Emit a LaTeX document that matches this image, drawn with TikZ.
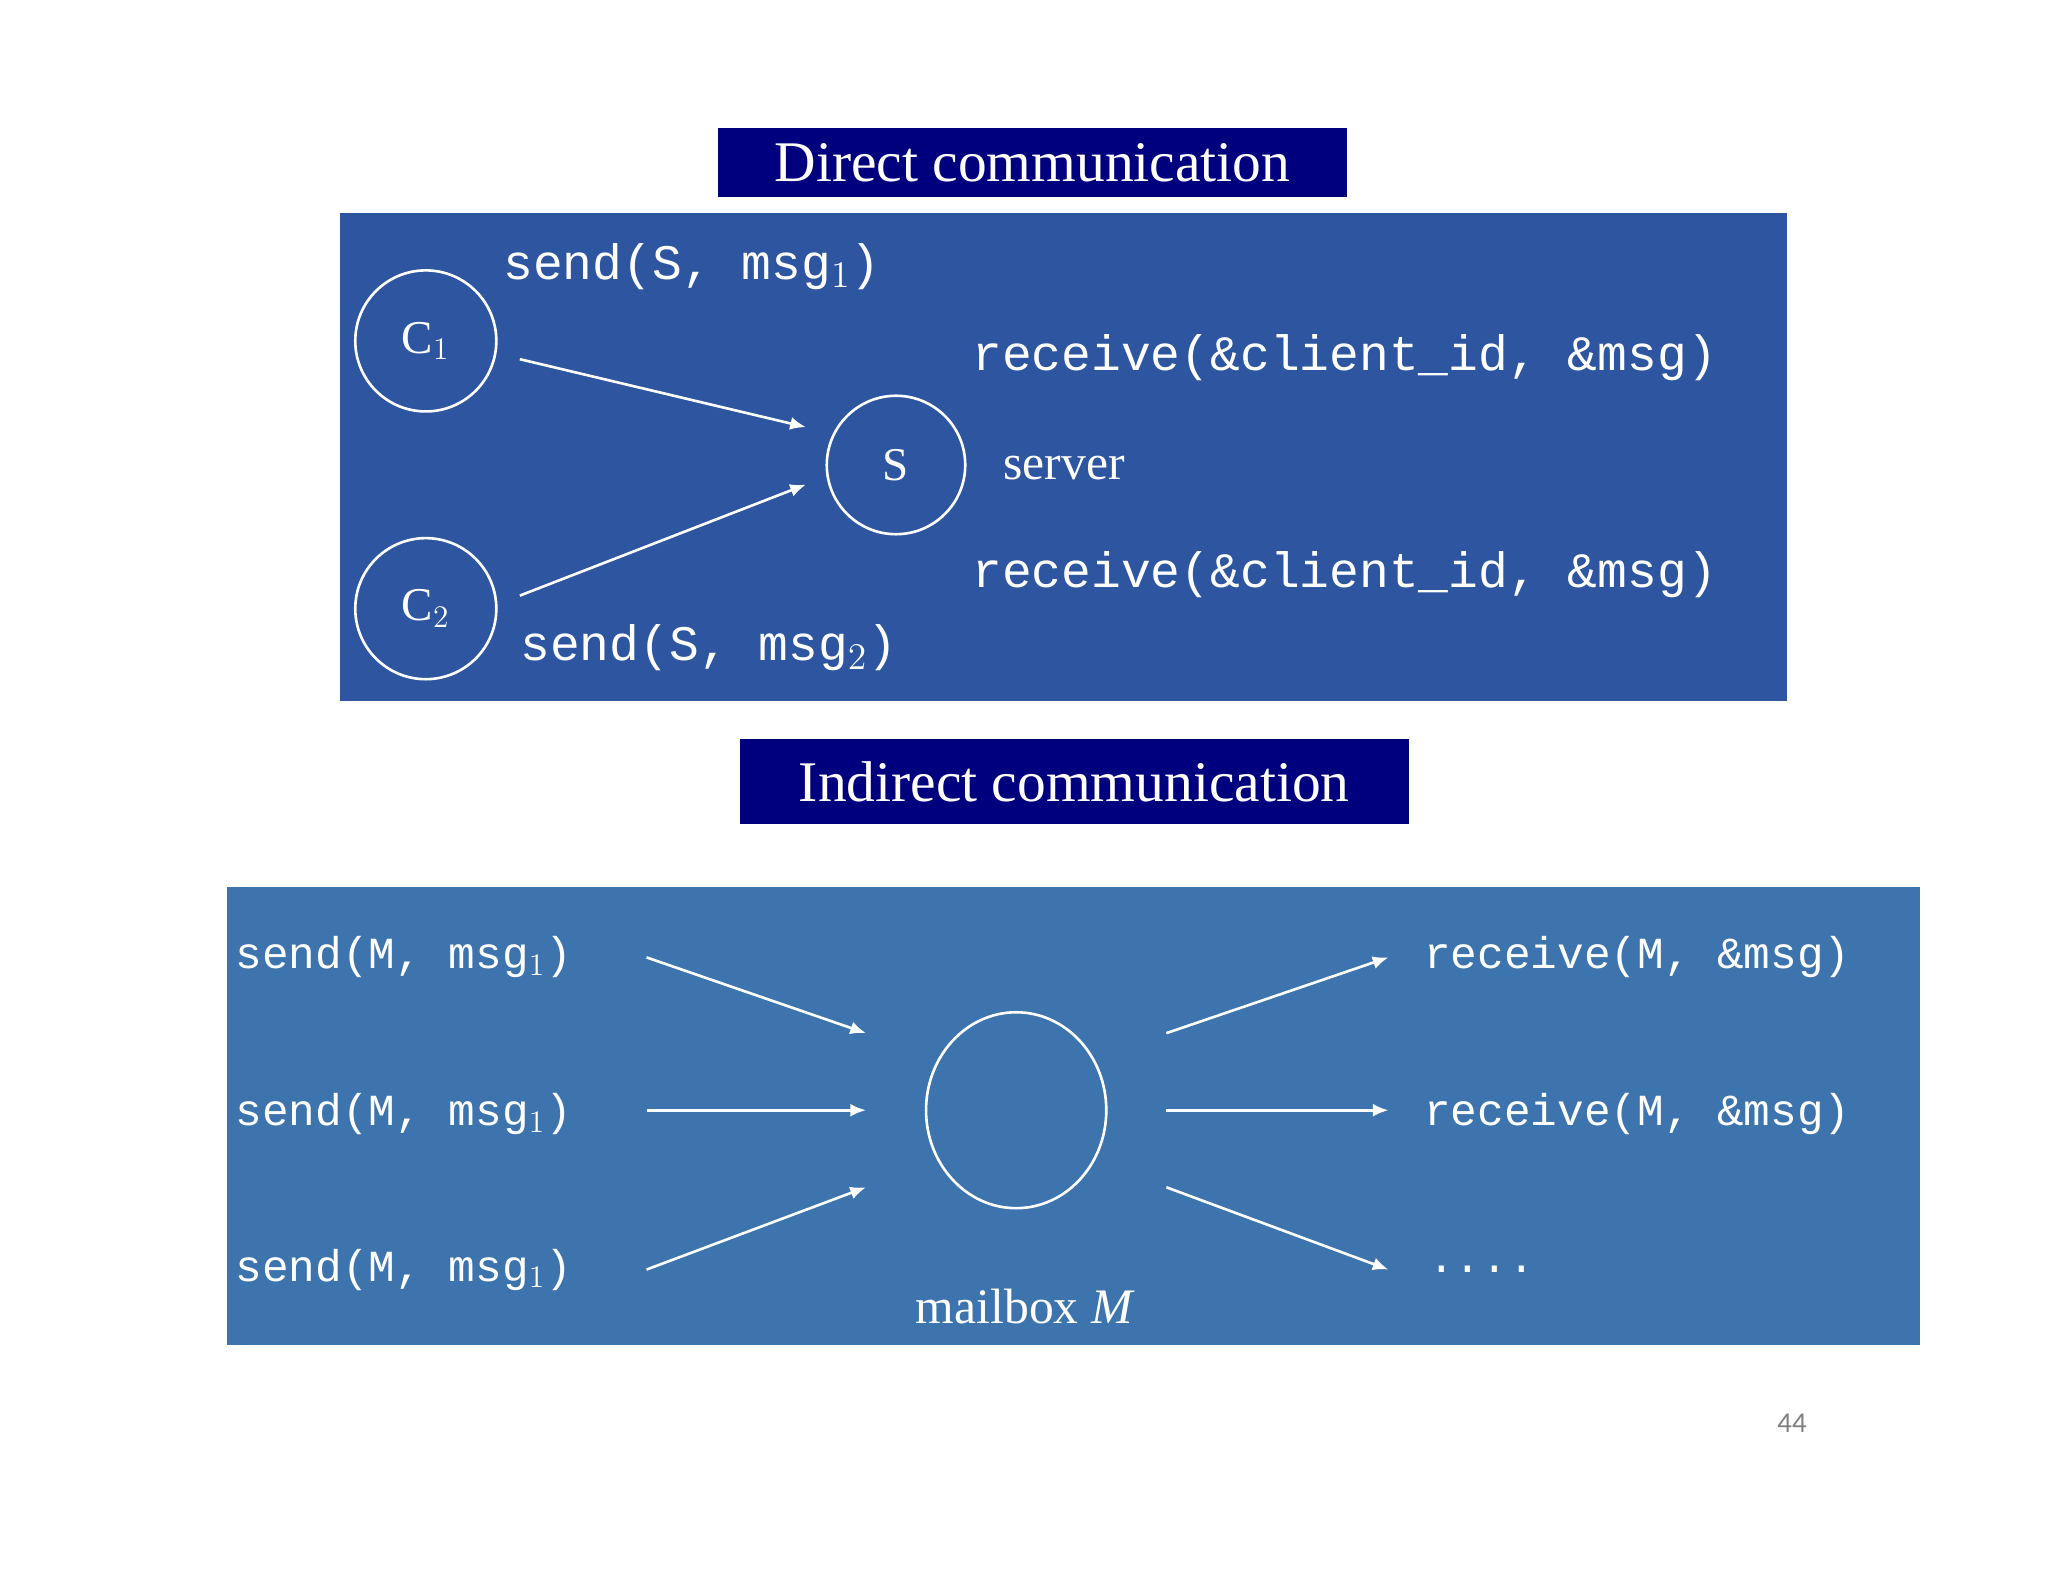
\documentclass[tikz,border=0pt]{standalone}
\usepackage{fontspec}
\setmainfont{Liberation Serif}
\setmonofont{Liberation Mono}
\newfontfamily\pagefont{Carlito}
\usetikzlibrary{arrows.meta,shapes.geometric}
\definecolor{navy}{HTML}{00007F}
\definecolor{boxa}{HTML}{2D55A0}
\definecolor{boxb}{HTML}{3D74AD}
\begin{document}
\begin{tikzpicture}[x=0.5pt,y=-0.5pt,
  code/.style={text=white,font=\ttfamily\fontsize{19}{22}\selectfont,inner sep=0pt},
  codeb/.style={text=white,font=\ttfamily\fontsize{17}{20}\selectfont,inner sep=0pt},
  ttl/.style={fill=navy,text=white,font=\fontsize{22}{26}\selectfont,inner sep=0pt,anchor=west},
  circ/.style={draw=white,line width=1pt,circle,minimum size=54pt,inner sep=0pt,text=white,font=\fontsize{18}{20}\selectfont},
  arr/.style={draw=white,line width=1pt,-{Latex[length=6pt,width=5pt]}}]
\useasboundingbox (0,0) rectangle (1568,1211);
\fill[white] (0,0) rectangle (1568,1211);
% direct
\node[ttl,minimum width=241pt,minimum height=26.5pt] (t1) at (549,124.5) {Direct communication};
\fill[boxa] (260,163) rectangle (1368,537);
\node[circ] (c1) at (326,261) {C$_1$};
\node[circ] (c2) at (326,466) {C$_2$};
\node[circ,minimum size=53pt] (s) at (686,356) {S};
\coordinate (a1) at (398,275); \coordinate (b1) at (617,327);
\coordinate (a2) at (398,456); \coordinate (b2) at (617,371);
\draw[arr] (a1) -- (b1);
\draw[arr] (a2) -- (b2);
\node[code,anchor=west] (s1) at (385,204) {send(S, msg$_1$)};
\node[code,anchor=west] (r1) at (744,274) {receive(\&client\_id, \&msg)};
\node[text=white,font=\fontsize{19}{22}\selectfont,anchor=west,inner sep=0pt] (sv) at (768,358) {server};
\node[code,anchor=west] (r2) at (744,440) {receive(\&client\_id, \&msg)};
\node[code,anchor=west] (s2) at (398,496) {send(S, msg$_2$)};
% indirect
\node[ttl,minimum width=256pt,minimum height=32.5pt] (t2) at (566,598.5) {Indirect communication};
\fill[boxb] (174,679) rectangle (1470,1030);
\node[draw=white,line width=1pt,ellipse,inner sep=0pt,minimum width=69pt,minimum height=75pt] (m) at (778,850) {};
\foreach \y/\n in {733/1,853/2,972/3}
  \node[codeb,anchor=west] (sm\n) at (180,\y) {send(M, msg$_1$)};
\node[codeb,anchor=west] (rm1) at (1090,733) {receive(M, \&msg)};
\node[codeb,anchor=west] (rm2) at (1090,853) {receive(M, \&msg)};
\node[codeb,anchor=west] (dots) at (1093,972) {....};
\node[text=white,font=\fontsize{19}{22}\selectfont,inner sep=0pt] (mb) at (785,1000) {mailbox \textit{M}};
\coordinate (l1) at (495,733); \coordinate (l1e) at (663,791);
\coordinate (l2) at (495,850); \coordinate (l2e) at (663,850);
\coordinate (l3) at (495,972); \coordinate (l3e) at (663,909);
\coordinate (q1) at (893,791); \coordinate (q1e) at (1063,733);
\coordinate (q2) at (893,850); \coordinate (q2e) at (1063,850);
\coordinate (q3) at (893,909); \coordinate (q3e) at (1063,972);
\draw[arr] (l1) -- (l1e); \draw[arr] (l2) -- (l2e); \draw[arr] (l3) -- (l3e);
\draw[arr] (q1) -- (q1e); \draw[arr] (q2) -- (q2e); \draw[arr] (q3) -- (q3e);
\node[text=gray,font=\pagefont\fontsize{11}{13}\selectfont] (pg) at (1372,1090) {44};
\end{tikzpicture}
\end{document}
